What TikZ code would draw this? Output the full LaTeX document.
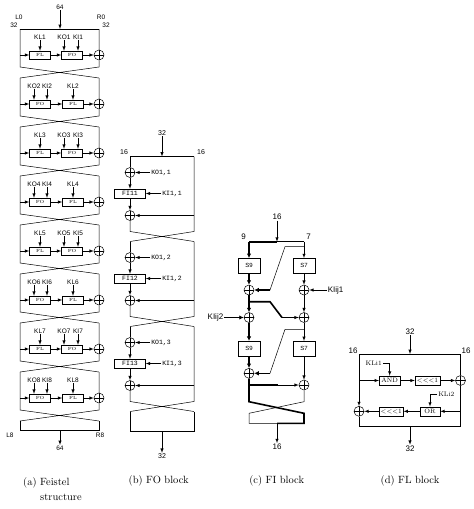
\documentclass[tikz,border=0pt]{standalone}
\usepackage{fontspec}
\setsansfont{Liberation Sans}
\setmonofont{Liberation Mono}
\usetikzlibrary{arrows,arrows.meta}

\tikzset{
  xor/.style={draw,circle,minimum size=10pt,inner sep=0pt,
    path picture={\draw (path picture bounding box.north) -- (path picture bounding box.south)
      (path picture bounding box.west) -- (path picture bounding box.east);}},
  fbox/.style={draw,minimum width=21pt,minimum height=8pt,inner sep=0pt,font=\fontsize{4.5}{5}\selectfont},
  key/.style={inner sep=0.5pt,font=\sffamily\fontsize{6.5}{7}\selectfont},
  fibox/.style={draw,minimum width=31pt,minimum height=9pt,inner sep=0pt,font=\ttfamily\fontsize{6.5}{7}\selectfont},
  tkey/.style={inner sep=1pt,anchor=west,font=\ttfamily\fontsize{6.5}{7}\selectfont},
  sbox/.style={draw,minimum width=22pt,minimum height=15pt,inner sep=0pt,font=\sffamily\fontsize{6}{7}\selectfont},
  lbox/.style={draw,minimum height=9pt,inner sep=0pt,font=\fontsize{6.5}{7}\selectfont},
  lkey/.style={inner sep=1pt,font=\fontsize{6.5}{7}\selectfont},
  num/.style={inner sep=0.5pt,font=\sffamily\fontsize{7}{8}\selectfont},
  inum/.style={inner sep=0.5pt,font=\sffamily\fontsize{8}{9}\selectfont},
  capt/.style={inner sep=0pt,font=\fontsize{10.5}{15}\selectfont},
  arr/.style={-latex},
  thk/.style={line width=1.6pt},
  tarr/.style={thk,-{Latex[length=4.5pt,width=4.5pt]}}
}

\begin{document}
\begin{tikzpicture}[x=1pt,y=-1pt,line width=0.5pt]
\useasboundingbox (0,0) rectangle (474,509);

% (a) Feistel structure
\node[key] (in64) at (60,7) {64};
\node[key] (l0) at (19,17) {L0};
\node[key] (r0) at (101,17) {R0};
\node[key] (l0w) at (14,25) {32};
\node[key] (r0w) at (106,25) {32};
\coordinate (ftop) at (60,29);
\draw[arr] (in64) -- (ftop);
\draw (20,29) -- (99,29);

% round 1
\node[fbox] (fl1) at (40,55) {FL};
\node[fbox] (fo1) at (72,55) {FO};
\node[xor] (x1) at (99,55) {};
\node[key] (kl1) at (40,37) {KL1};
\node[key] (ko1) at (64,37) {KO1};
\node[key] (ki1) at (78,37) {KI1};
\coordinate (e1) at (20,55);
\draw[arr] (e1) -- (fl1);
\draw[arr] (fl1) -- (fo1);
\draw[arr] (fo1) -- (x1);
\draw[arr] (kl1) -- (fl1);
\draw[arr] (ko1) -- (ko1 |- fo1.north);
\draw[arr] (ki1) -- (ki1 |- fo1.north);
\draw (20,29) -- (20,67) -- (99,78) (99,29) -- (x1) -- (99,67) -- (20,78);

% round 2
\node[fbox] (fo2) at (40,104) {FO};
\node[fbox] (fl2) at (73,104) {FL};
\node[xor] (x2) at (99,104) {};
\node[key] (ko2) at (34,86) {KO2};
\node[key] (ki2) at (47,86) {KI2};
\node[key] (kl2) at (73,86) {KL2};
\coordinate (e2) at (20,104);
\draw[arr] (e2) -- (fo2);
\draw[arr] (fo2) -- (fl2);
\draw[arr] (fl2) -- (x2);
\draw[arr] (ko2) -- (ko2 |- fo2.north);
\draw[arr] (ki2) -- (ki2 |- fo2.north);
\draw[arr] (kl2) -- (fl2);
\draw (20,78) -- (20,116) -- (99,127) (99,78) -- (x2) -- (99,116) -- (20,127);

% round 3
\node[fbox] (fl3) at (40,153) {FL};
\node[fbox] (fo3) at (72,153) {FO};
\node[xor] (x3) at (99,153) {};
\node[key] (kl3) at (40,135) {KL3};
\node[key] (ko3) at (64,135) {KO3};
\node[key] (ki3) at (78,135) {KI3};
\coordinate (e3) at (20,153);
\draw[arr] (e3) -- (fl3);
\draw[arr] (fl3) -- (fo3);
\draw[arr] (fo3) -- (x3);
\draw[arr] (kl3) -- (fl3);
\draw[arr] (ko3) -- (ko3 |- fo3.north);
\draw[arr] (ki3) -- (ki3 |- fo3.north);
\draw (20,127) -- (20,165) -- (99,176) (99,127) -- (x3) -- (99,165) -- (20,176);

% round 4
\node[fbox] (fo4) at (40,202) {FO};
\node[fbox] (fl4) at (73,202) {FL};
\node[xor] (x4) at (99,202) {};
\node[key] (ko4) at (34,184) {KO4};
\node[key] (ki4) at (47,184) {KI4};
\node[key] (kl4) at (73,184) {KL4};
\coordinate (e4) at (20,202);
\draw[arr] (e4) -- (fo4);
\draw[arr] (fo4) -- (fl4);
\draw[arr] (fl4) -- (x4);
\draw[arr] (ko4) -- (ko4 |- fo4.north);
\draw[arr] (ki4) -- (ki4 |- fo4.north);
\draw[arr] (kl4) -- (fl4);
\draw (20,176) -- (20,214) -- (99,225) (99,176) -- (x4) -- (99,214) -- (20,225);

% round 5
\node[fbox] (fl5) at (40,251) {FL};
\node[fbox] (fo5) at (72,251) {FO};
\node[xor] (x5) at (99,251) {};
\node[key] (kl5) at (40,233) {KL5};
\node[key] (ko5) at (64,233) {KO5};
\node[key] (ki5) at (78,233) {KI5};
\coordinate (e5) at (20,251);
\draw[arr] (e5) -- (fl5);
\draw[arr] (fl5) -- (fo5);
\draw[arr] (fo5) -- (x5);
\draw[arr] (kl5) -- (fl5);
\draw[arr] (ko5) -- (ko5 |- fo5.north);
\draw[arr] (ki5) -- (ki5 |- fo5.north);
\draw (20,225) -- (20,263) -- (99,274) (99,225) -- (x5) -- (99,263) -- (20,274);

% round 6
\node[fbox] (fo6) at (40,300) {FO};
\node[fbox] (fl6) at (73,300) {FL};
\node[xor] (x6) at (99,300) {};
\node[key] (ko6) at (34,282) {KO6};
\node[key] (ki6) at (47,282) {KI6};
\node[key] (kl6) at (73,282) {KL6};
\coordinate (e6) at (20,300);
\draw[arr] (e6) -- (fo6);
\draw[arr] (fo6) -- (fl6);
\draw[arr] (fl6) -- (x6);
\draw[arr] (ko6) -- (ko6 |- fo6.north);
\draw[arr] (ki6) -- (ki6 |- fo6.north);
\draw[arr] (kl6) -- (fl6);
\draw (20,274) -- (20,312) -- (99,323) (99,274) -- (x6) -- (99,312) -- (20,323);

% round 7
\node[fbox] (fl7) at (40,349) {FL};
\node[fbox] (fo7) at (72,349) {FO};
\node[xor] (x7) at (99,349) {};
\node[key] (kl7) at (40,331) {KL7};
\node[key] (ko7) at (64,331) {KO7};
\node[key] (ki7) at (78,331) {KI7};
\coordinate (e7) at (20,349);
\draw[arr] (e7) -- (fl7);
\draw[arr] (fl7) -- (fo7);
\draw[arr] (fo7) -- (x7);
\draw[arr] (kl7) -- (fl7);
\draw[arr] (ko7) -- (ko7 |- fo7.north);
\draw[arr] (ki7) -- (ki7 |- fo7.north);
\draw (20,323) -- (20,361) -- (99,372) (99,323) -- (x7) -- (99,361) -- (20,372);

% round 8
\node[fbox] (fo8) at (40,398) {FO};
\node[fbox] (fl8) at (73,398) {FL};
\node[xor] (x8) at (99,398) {};
\node[key] (ko8) at (34,380) {KO8};
\node[key] (ki8) at (47,380) {KI8};
\node[key] (kl8) at (73,380) {KL8};
\coordinate (e8) at (20,398);
\draw[arr] (e8) -- (fo8);
\draw[arr] (fo8) -- (fl8);
\draw[arr] (fl8) -- (x8);
\draw[arr] (ko8) -- (ko8 |- fo8.north);
\draw[arr] (ki8) -- (ki8 |- fo8.north);
\draw[arr] (kl8) -- (fl8);
\draw (20,372) -- (20,410) -- (99,421) (99,372) -- (x8) -- (99,410) -- (20,421);

\draw (20,421) -- (20,430) -- (99,430) -- (99,421);
\coordinate (fbot) at (60,430);
\node[key] (out64) at (60,448) {64};
\draw[arr] (fbot) -- (out64);
\node[key] (l8) at (10,435) {L8};
\node[key] (r8) at (100,435) {R8};

% (b) FO block
\node[num] (fo32) at (162,133) {32};
\node[num] (fo16l) at (124,152) {16};
\node[num] (fo16r) at (201,152) {16};
\coordinate (fotop) at (162,156.5);
\draw[arr] (fo32) -- (fotop);
\draw (130,156.5) -- (194,156.5);

\node[xor] (a1) at (130,172.5) {};
\node[fibox] (fi11) at (130,193.5) {FI11};
\node[xor] (b1) at (130,215.5) {};
\node[tkey] (ko11) at (150,172.5) {KO1,1};
\node[tkey] (ki11) at (161,193.5) {KI1,1};
\coordinate (r1) at (194,215.5);
\draw (130,156.5) -- (a1);
\draw[arr] (a1) -- (fi11);
\draw[arr] (fi11) -- (b1);
\draw[arr] (ko11) -- (a1);
\draw[arr] (ki11) -- (fi11);
\draw[arr] (r1) -- (b1);
\draw (b1) -- (130,231.5) -- (194,241.5) (194,156.5) -- (194,231.5) -- (130,241.5);

\node[xor] (a2) at (130,257.5) {};
\node[fibox] (fi12) at (130,278.5) {FI12};
\node[xor] (b2) at (130,300.5) {};
\node[tkey] (ko12) at (150,257.5) {KO1,2};
\node[tkey] (ki12) at (161,278.5) {KI1,2};
\coordinate (r2) at (194,300.5);
\draw (130,241.5) -- (a2);
\draw[arr] (a2) -- (fi12);
\draw[arr] (fi12) -- (b2);
\draw[arr] (ko12) -- (a2);
\draw[arr] (ki12) -- (fi12);
\draw[arr] (r2) -- (b2);
\draw (b2) -- (130,316.5) -- (194,326.5) (194,241.5) -- (194,316.5) -- (130,326.5);

\node[xor] (a3) at (130,342.5) {};
\node[fibox] (fi13) at (130,363.5) {FI13};
\node[xor] (b3) at (130,385.5) {};
\node[tkey] (ko13) at (150,342.5) {KO1,3};
\node[tkey] (ki13) at (161,363.5) {KI1,3};
\coordinate (r3) at (194,385.5);
\draw (130,326.5) -- (a3);
\draw[arr] (a3) -- (fi13);
\draw[arr] (fi13) -- (b3);
\draw[arr] (ko13) -- (a3);
\draw[arr] (ki13) -- (fi13);
\draw[arr] (r3) -- (b3);
\draw (b3) -- (130,401.5) -- (194,411.5) (194,326.5) -- (194,401.5) -- (130,411.5);

\draw (130,411.5) -- (130,431) -- (194,431) -- (194,411.5);
\coordinate (fobot) at (162,431);
\node[num] (foout) at (162,456) {32};
\draw[arr] (fobot) -- (foout);

% (c) FI block
\node[inum] (fi16) at (277,217) {16};
\node[inum] (fi9) at (243.5,237) {9};
\node[inum] (fi7) at (308.5,237) {7};
\coordinate (fitop) at (277,241.7);
\coordinate (fil) at (249,241.7);
\coordinate (fir) at (304,241.7);
\draw[arr] (fi16) -- (fitop);
\draw[thk] (fil) -- (fitop);
\draw (fitop) -- (fir);
\node[sbox] (s9a) at (249,265.8) {S9};
\node[sbox] (s7a) at (304,265.8) {S7};
\node[xor] (xa) at (249,290) {};
\node[xor] (xb) at (304,290) {};
\node[xor] (xc) at (249,317.5) {};
\node[xor] (xd) at (304,317.5) {};
\node[sbox] (s9b) at (249,348.7) {S9};
\node[sbox] (s7b) at (304,348.7) {S7};
\node[xor] (xe) at (249,373.3) {};
\node[xor] (xf) at (304,385) {};
\node[inum,anchor=west] (kij1) at (327,290) {KIij1};
\node[inum,anchor=east] (kij2) at (224,317.5) {KIij2};
\draw[tarr] (fil) -- (s9a);
\draw[arr] (fir) -- (s7a);
\draw[tarr] (s9a) -- (xa);
\draw[arr] (s7a) -- (xb);
\draw[arr] (kij1) -- (xb);
\coordinate (ze1) at (304,246.7);
\coordinate (ze1e) at (270,290);
\draw (ze1) -- (285,246.7) -- (ze1e);
\draw[tarr] (ze1e) -- (xa);
\draw[tarr] (xa) -- (xc);
\coordinate (ta1) at (249,301.7);
\coordinate (ta3) at (282,317.5);
\draw[thk] (ta1) -- (270,301.7) -- (ta3);
\draw[arr] (ta3) -- (xd);
\draw[arr] (xb) -- (xd);
\draw[tarr] (kij2) -- (xc);
\draw[tarr] (xc) -- (s9b);
\draw[arr] (xd) -- (s7b);
\coordinate (ze2) at (304,329.3);
\coordinate (ze2e) at (270,373.3);
\draw (ze2) -- (285,329.3) -- (ze2e);
\draw[tarr] (ze2e) -- (xe);
\draw[tarr] (s9b) -- (xe);
\draw[arr] (s7b) -- (xf);
\coordinate (tb1) at (249,385);
\coordinate (tb2) at (278,385);
\draw[thk] (tb1) -- (tb2);
\draw[arr] (tb2) -- (xf);
\coordinate (fibot) at (277,423.3);
\draw[thk] (xe) -- (249,401.7) -- (304,413.3) -- (304,423.3) -- (fibot);
\draw (xf) -- (304,401.7) -- (249,413.3) -- (249,423.3) -- (fibot);
\node[inum] (fiout) at (277,446.7) {16};
\draw[arr] (fibot) -- (fiout);

% (d) FL block
\node[inum] (fl32) at (410,331.7) {32};
\node[inum] (fl16l) at (353,351) {16};
\node[inum] (fl16r) at (466,351) {16};
\coordinate (fltop) at (410,354);
\draw[arr] (fl32) -- (fltop);
\draw (359,354) -- (460.5,354);
\node[lbox,minimum width=21pt] (andb) at (389.7,380.5) {AND};
\node[lbox,minimum width=25pt] (rot1) at (427.5,380.5) {{<}{<}{<}1};
\node[xor] (xr) at (460.5,380.5) {};
\node[lbox,minimum width=20pt] (orb) at (430,411.3) {OR};
\node[lbox,minimum width=24pt] (rot2) at (391.3,411.3) {{<}{<}{<}1};
\node[xor] (xl) at (359,411.3) {};
\node[lkey,anchor=east] (kli1) at (383,363.5) {KLi1};
\node[lkey,anchor=west] (kli2) at (437,394.5) {KLi2};
\coordinate (fle) at (359,380.5);
\coordinate (flw) at (460.5,411.3);
\draw[arr] (fle) -- (andb);
\draw[arr] (andb) -- (rot1);
\draw[arr] (rot1) -- (xr);
\draw[arr] (flw) -- (orb);
\draw[arr] (orb) -- (rot2);
\draw[arr] (rot2) -- (xl);
\draw[arr] (kli1.east) -- (andb.north |- kli1.east) -- (andb);
\draw[arr] (kli2.west) -- (orb.north |- kli2.west) -- (orb);
\draw[arr] (359,354) -- (xl);
\draw (xl) -- (359,426) -- (460.5,426) -- (xr) -- (460.5,354);
\coordinate (flbot) at (410,426);
\node[inum] (flout) at (410,448.3) {32};
\draw[arr] (flbot) -- (flout);

% captions
\node[capt,anchor=west,align=left] (capa) at (23,489) {(a) Feistel\\\hphantom{(a) }structure};
\node[capt] (capb) at (158.7,481) {(b) FO block};
\node[capt] (capc) at (276.7,481) {(c) FI block};
\node[capt] (capd) at (410,481) {(d) FL block};
\end{tikzpicture}
\end{document}
